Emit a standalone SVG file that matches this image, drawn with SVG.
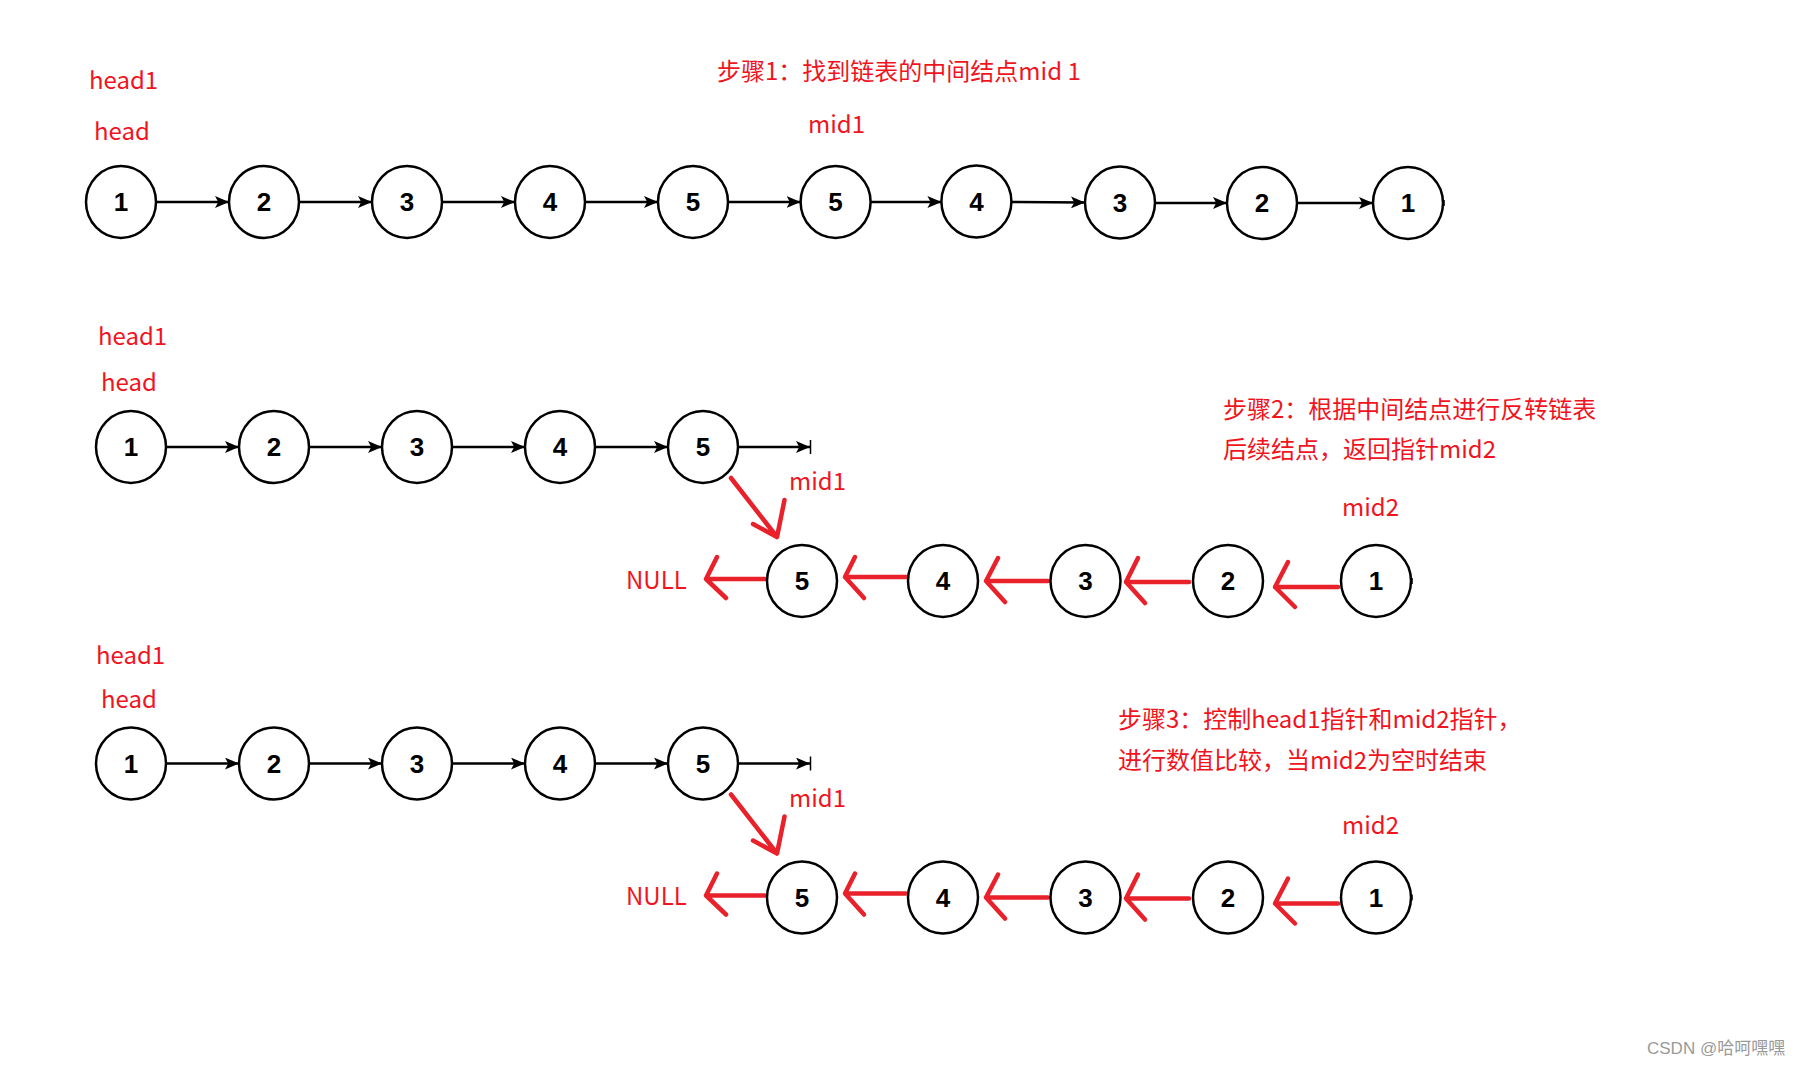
<svg xmlns="http://www.w3.org/2000/svg" width="1799" height="1067" viewBox="0 0 1799 1067">
<defs>
<style>
.n ellipse{fill:#fff;stroke:#000;stroke-width:2.5}
.n text{font-family:"Liberation Sans",Arial,sans-serif;font-weight:bold;font-size:26px;text-anchor:middle;fill:#000}
.lbl{font-family:"Noto Sans CJK SC","Liberation Sans",sans-serif;font-size:24px;fill:#f0141e}
.wm{font-family:"Liberation Sans","Noto Sans CJK SC",sans-serif;font-size:17px;fill:#9a9a9a}
.bk{stroke:#000;stroke-width:2.5;fill:none;marker-end:url(#ah)}
.tick{stroke:#000;stroke-width:1.5}
.rd{stroke:#e8212b;stroke-width:4.5;fill:none;stroke-linecap:round;stroke-linejoin:round}
</style>
<marker id="ah" markerUnits="userSpaceOnUse" markerWidth="14" markerHeight="12" viewBox="0 0 13 11" refX="13" refY="5.5" orient="auto">
<path d="M0,0 L13,5.5 L0,11 L3,5.5 z" fill="#000"/>
</marker>
</defs>
<rect width="1799" height="1067" fill="#fff"/>

<g id="labels">
<text class="lbl" x="89" y="89">head1</text>
<text class="lbl" x="94" y="140">head</text>
<text class="lbl" x="717" y="80">步骤1：找到链表的中间结点mid 1</text>
<text class="lbl" x="808" y="133">mid1</text>

<text class="lbl" x="98" y="345">head1</text>
<text class="lbl" x="101" y="391">head</text>
<text class="lbl" x="789" y="490">mid1</text>
<text class="lbl" x="626" y="589">NULL</text>
<text class="lbl" x="1342" y="516">mid2</text>
<text class="lbl" x="1223" y="418">步骤2：根据中间结点进行反转链表</text>
<text class="lbl" x="1223" y="458">后续结点，返回指针mid2</text>

<text class="lbl" x="96" y="664">head1</text>
<text class="lbl" x="101" y="708">head</text>
<text class="lbl" x="789" y="807">mid1</text>
<text class="lbl" x="626" y="905">NULL</text>
<text class="lbl" x="1342" y="834">mid2</text>
<text class="lbl" x="1118" y="728">步骤3：控制head1指针和mid2指针，</text>
<text class="lbl" x="1118" y="769">进行数值比较，当mid2为空时结束</text>

<text class="wm" x="1647" y="1054">CSDN @哈呵嘿嘿</text>
</g>

<g id="connectors">
<!-- row 1 -->
<line class="bk" x1="156" y1="202" x2="229" y2="202"/>
<line class="bk" x1="299" y1="202" x2="372" y2="202"/>
<line class="bk" x1="442" y1="202" x2="515" y2="202"/>
<line class="bk" x1="585" y1="202" x2="658" y2="202"/>
<line class="bk" x1="728" y1="202" x2="800.6" y2="202"/>
<line class="bk" x1="870.6" y1="202" x2="941.4" y2="202"/>
<line class="bk" x1="1011.4" y1="202" x2="1085" y2="202.5"/>
<line class="bk" x1="1155" y1="203" x2="1227" y2="203"/>
<line class="bk" x1="1297" y1="203" x2="1373" y2="203"/>
<line class="tick" x1="1444" y1="200" x2="1444" y2="206"/>
<!-- row 2 -->
<line class="bk" x1="166" y1="447" x2="239" y2="447"/>
<line class="bk" x1="309" y1="447" x2="382" y2="447"/>
<line class="bk" x1="452" y1="447" x2="525" y2="447"/>
<line class="bk" x1="595" y1="447" x2="668" y2="447"/>
<line class="bk" x1="738" y1="447" x2="810" y2="447"/>
<line class="tick" x1="810.5" y1="440" x2="810.5" y2="454"/>
<path class="rd" d="M731,478 L777,537 M753,524 L777,537 L784.5,500"/>
<path class="rd" d="M765,579 L706,579 M717,557 L706,579 L726,598"/>
<path class="rd" d="M906,577 L845,577 M855,557 L845,577 L864,598"/>
<path class="rd" d="M1048,581 L986,581 M998,558 L986,581 L1005,602"/>
<path class="rd" d="M1189,582 L1126,582 M1138,558 L1126,582 L1145,603"/>
<path class="rd" d="M1338,587 L1275,587 M1288,562 L1275,587 L1295,607"/>
<line class="tick" x1="1412" y1="578" x2="1412" y2="584"/>
<!-- row 3 -->
<line class="bk" x1="166" y1="763.5" x2="239" y2="763.5"/>
<line class="bk" x1="309" y1="763.5" x2="382" y2="763.5"/>
<line class="bk" x1="452" y1="763.5" x2="525" y2="763.5"/>
<line class="bk" x1="595" y1="763.5" x2="668" y2="763.5"/>
<line class="bk" x1="738" y1="763.5" x2="810" y2="763.5"/>
<line class="tick" x1="810.5" y1="756.5" x2="810.5" y2="770.5"/>
<path class="rd" d="M731,794.5 L777,853.5 M753,840.5 L777,853.5 L784.5,816.5"/>
<path class="rd" d="M765,895.5 L706,895.5 M717,873.5 L706,895.5 L726,914.5"/>
<path class="rd" d="M906,893.5 L845,893.5 M855,873.5 L845,893.5 L864,914.5"/>
<path class="rd" d="M1048,897.5 L986,897.5 M998,874.5 L986,897.5 L1005,918.5"/>
<path class="rd" d="M1189,898.5 L1126,898.5 M1138,874.5 L1126,898.5 L1145,919.5"/>
<path class="rd" d="M1338,903.5 L1275,903.5 M1288,878.5 L1275,903.5 L1295,923.5"/>
<line class="tick" x1="1412" y1="894.5" x2="1412" y2="900.5"/>
</g>

<g id="r1n1" class="n"><ellipse cx="121" cy="202" rx="35" ry="36"/><text x="121" y="211">1</text></g>
<g id="r1n2" class="n"><ellipse cx="264" cy="202" rx="35" ry="36"/><text x="264" y="211">2</text></g>
<g id="r1n3" class="n"><ellipse cx="407" cy="202" rx="35" ry="36"/><text x="407" y="211">3</text></g>
<g id="r1n4" class="n"><ellipse cx="550" cy="202" rx="35" ry="36"/><text x="550" y="211">4</text></g>
<g id="r1n5" class="n"><ellipse cx="693" cy="202" rx="35" ry="36"/><text x="693" y="211">5</text></g>
<g id="r1n6" class="n"><ellipse cx="835.6" cy="202" rx="35" ry="36"/><text x="835.6" y="211">5</text></g>
<g id="r1n7" class="n"><ellipse cx="976.4" cy="201.5" rx="35" ry="36"/><text x="976.4" y="210.5">4</text></g>
<g id="r1n8" class="n"><ellipse cx="1120" cy="202.5" rx="35" ry="36"/><text x="1120" y="211.5">3</text></g>
<g id="r1n9" class="n"><ellipse cx="1262" cy="203" rx="35" ry="36"/><text x="1262" y="212">2</text></g>
<g id="r1n10" class="n"><ellipse cx="1408" cy="203" rx="35" ry="36"/><text x="1408" y="212">1</text></g>

<g id="r2n1" class="n"><ellipse cx="131" cy="447" rx="35" ry="36"/><text x="131" y="456">1</text></g>
<g id="r2n2" class="n"><ellipse cx="274" cy="447" rx="35" ry="36"/><text x="274" y="456">2</text></g>
<g id="r2n3" class="n"><ellipse cx="417" cy="447" rx="35" ry="36"/><text x="417" y="456">3</text></g>
<g id="r2n4" class="n"><ellipse cx="560" cy="447" rx="35" ry="36"/><text x="560" y="456">4</text></g>
<g id="r2n5" class="n"><ellipse cx="703" cy="447" rx="35" ry="36"/><text x="703" y="456">5</text></g>

<g id="r2b5" class="n"><ellipse cx="802" cy="581" rx="35" ry="36"/><text x="802" y="590">5</text></g>
<g id="r2b4" class="n"><ellipse cx="943" cy="581" rx="35" ry="36"/><text x="943" y="590">4</text></g>
<g id="r2b3" class="n"><ellipse cx="1085.5" cy="581" rx="35" ry="36"/><text x="1085.5" y="590">3</text></g>
<g id="r2b2" class="n"><ellipse cx="1228" cy="581" rx="35" ry="36"/><text x="1228" y="590">2</text></g>
<g id="r2b1" class="n"><ellipse cx="1376" cy="581" rx="35" ry="36"/><text x="1376" y="590">1</text></g>

<g id="r3n1" class="n"><ellipse cx="131" cy="763.5" rx="35" ry="36"/><text x="131" y="772.5">1</text></g>
<g id="r3n2" class="n"><ellipse cx="274" cy="763.5" rx="35" ry="36"/><text x="274" y="772.5">2</text></g>
<g id="r3n3" class="n"><ellipse cx="417" cy="763.5" rx="35" ry="36"/><text x="417" y="772.5">3</text></g>
<g id="r3n4" class="n"><ellipse cx="560" cy="763.5" rx="35" ry="36"/><text x="560" y="772.5">4</text></g>
<g id="r3n5" class="n"><ellipse cx="703" cy="763.5" rx="35" ry="36"/><text x="703" y="772.5">5</text></g>

<g id="r3b5" class="n"><ellipse cx="802" cy="897.5" rx="35" ry="36"/><text x="802" y="906.5">5</text></g>
<g id="r3b4" class="n"><ellipse cx="943" cy="897.5" rx="35" ry="36"/><text x="943" y="906.5">4</text></g>
<g id="r3b3" class="n"><ellipse cx="1085.5" cy="897.5" rx="35" ry="36"/><text x="1085.5" y="906.5">3</text></g>
<g id="r3b2" class="n"><ellipse cx="1228" cy="897.5" rx="35" ry="36"/><text x="1228" y="906.5">2</text></g>
<g id="r3b1" class="n"><ellipse cx="1376" cy="897.5" rx="35" ry="36"/><text x="1376" y="906.5">1</text></g>
</svg>
